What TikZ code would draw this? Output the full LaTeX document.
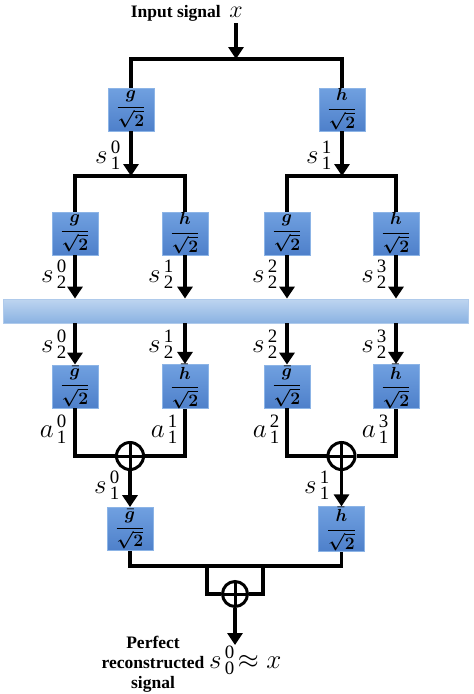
\RequirePackage{fix-cm}
\documentclass[tikz,border=0pt]{standalone}
\usepackage{amsmath}
\usepackage{fontspec}
\setmainfont{Liberation Serif}
\usetikzlibrary{arrows.meta}
\definecolor{boxtop}{RGB}{112,160,224}
\definecolor{boxbot}{RGB}{78,128,202}
\definecolor{boxedge}{RGB}{140,180,230}
\definecolor{bartop}{RGB}{190,213,240}
\definecolor{barbot}{RGB}{138,178,226}
\definecolor{baredge}{RGB}{175,202,235}
\newcommand{\flt}[1]{{\boldmath$\dfrac{#1}{\sqrt{2}}$}}
\newcommand{\lbl}[3]{$#1^{\,\mathrm{#2}}_{\,\mathrm{#3}}$}
\tikzset{
  wire/.style={line width=3.5pt},
  arr/.style={wire,-{Triangle[width=15pt,length=12pt]}},
  filt/.style={minimum width=46pt,minimum height=43pt,inner sep=0pt,
    top color=boxtop,bottom color=boxbot,draw=boxedge,line width=0.8pt,
    font=\fontsize{17.5}{19}\selectfont},
  sumnode/.style={circle,draw,line width=3pt,minimum size=27pt,inner sep=0pt,
    path picture={\draw[line width=3pt] (path picture bounding box.north)--(path picture bounding box.south)
      (path picture bounding box.west)--(path picture bounding box.east);}},
  lab/.style={font=\fontsize{27}{27}\selectfont,inner sep=0pt,anchor=base east},
  txt/.style={font=\fontsize{17.5}{20}\selectfont\bfseries,inner sep=0pt},
}
\begin{document}
\begin{tikzpicture}[x=1pt,y=-1pt]
\useasboundingbox (0,0) rectangle (474,694);
% input
\node[txt,anchor=base east] (in) at (221,17) {Input signal};
\node[font=\fontsize{24}{24}\selectfont,inner sep=0pt,anchor=base] (inx) at (236,17) {$x$};
\coordinate (itop) at (236,23);
\coordinate (j0) at (236,59);
% level 1
\node[filt] (g1) at (131,109.5) {\flt{g}};
\node[filt] (h1) at (342,109.5) {\flt{h}};
\draw[arr] (itop) -- (j0);
\draw[wire] (g1.north) |- (j0) -| (h1.north);
% level 2
\coordinate (jl) at (131,176);
\coordinate (jr) at (342,176);
\node[filt] (g2a) at (75,233.5) {\flt{g}};
\node[filt] (h2a) at (185,233.5) {\flt{h}};
\node[filt] (g2b) at (287,233.5) {\flt{g}};
\node[filt] (h2b) at (396,233.5) {\flt{h}};
\draw[arr] (g1.south) -- (jl);
\draw[arr] (h1.south) -- (jr);
\draw[wire] (g2a.north) |- (jl) -| (h2a.north);
\draw[wire] (g2b.north) |- (jr) -| (h2b.north);
\node[lab] at (121,163) {\lbl{s}{0}{1}};
\node[lab] at (332,163) {\lbl{s}{1}{1}};
% bar
\node[minimum width=465pt,minimum height=24pt,inner sep=0pt,top color=bartop,bottom color=barbot,draw=baredge,line width=0.8pt] (bar) at (235.5,311) {};
\foreach \n in {g2a,h2a,g2b,h2b}{\draw[arr] (\n.south) -- (\n.south |- bar.north);}
\node[lab] at (67,282) {\lbl{s}{0}{2}};
\node[lab] at (174,282) {\lbl{s}{1}{2}};
\node[lab] at (278,282) {\lbl{s}{2}{2}};
\node[lab] at (387,282) {\lbl{s}{3}{2}};
% synthesis
\node[filt] (gb2a) at (75,386.5) {\flt{\bar{g}}};
\node[filt] (hb2a) at (185,386.5) {\flt{\bar{h}}};
\node[filt] (gb2b) at (287,386.5) {\flt{\bar{g}}};
\node[filt] (hb2b) at (396,386.5) {\flt{\bar{h}}};
\foreach \n in {gb2a,hb2a,gb2b,hb2b}{\draw[arr] (\n.north |- bar.south) -- (\n.north);}
\node[lab] at (67,352) {\lbl{s}{0}{2}};
\node[lab] at (174,352) {\lbl{s}{1}{2}};
\node[lab] at (278,352) {\lbl{s}{2}{2}};
\node[lab] at (387,352) {\lbl{s}{3}{2}};
\node[sumnode] (sa) at (130,456) {};
\node[sumnode] (sb) at (341.5,456) {};
\draw[wire] (gb2a.south) |- (sa.west);
\draw[wire] (hb2a.south) |- (sa.east);
\draw[wire] (gb2b.south) |- (sb.west);
\draw[wire] (hb2b.south) |- (sb.east);
\node[lab] at (67,437) {\lbl{a}{0}{1}};
\node[lab] at (178,437) {\lbl{a}{1}{1}};
\node[lab] at (280,437) {\lbl{a}{2}{1}};
\node[lab] at (389,437) {\lbl{a}{3}{1}};
\node[filt] (gb1) at (130,529) {\flt{\bar{g}}};
\node[filt] (hb1) at (341.5,529) {\flt{\bar{h}}};
\draw[arr] (sa.south) -- (gb1.north);
\draw[arr] (sb.south) -- (hb1.north);
\node[lab] at (120,493) {\lbl{s}{0}{1}};
\node[lab] at (330,493) {\lbl{s}{1}{1}};
% final sum
\coordinate (jb) at (235,566);
\coordinate (rl) at (207,566);
\coordinate (rr) at (263,566);
\node[sumnode,minimum size=25pt] (sc) at (235,594) {};
\draw[wire] (gb1.south) |- (jb) -| (hb1.south);
\draw[wire] (rl) |- (sc.west);
\draw[wire] (rr) |- (sc.east);
\coordinate (out) at (235,645);
\draw[arr] (sc.south) -- (out);
\node[txt,align=center,font=\fontsize{17.5}{20}\selectfont\bfseries] (lbl) at (153,664) {Perfect\\reconstructed\\signal};
\node[font=\fontsize{27}{27}\selectfont,inner sep=0pt,anchor=base west] (res) at (209,668) {$s^{\,\mathrm{0}}_{\,\mathrm{0}}\!\approx x$};
\end{tikzpicture}
\end{document}
